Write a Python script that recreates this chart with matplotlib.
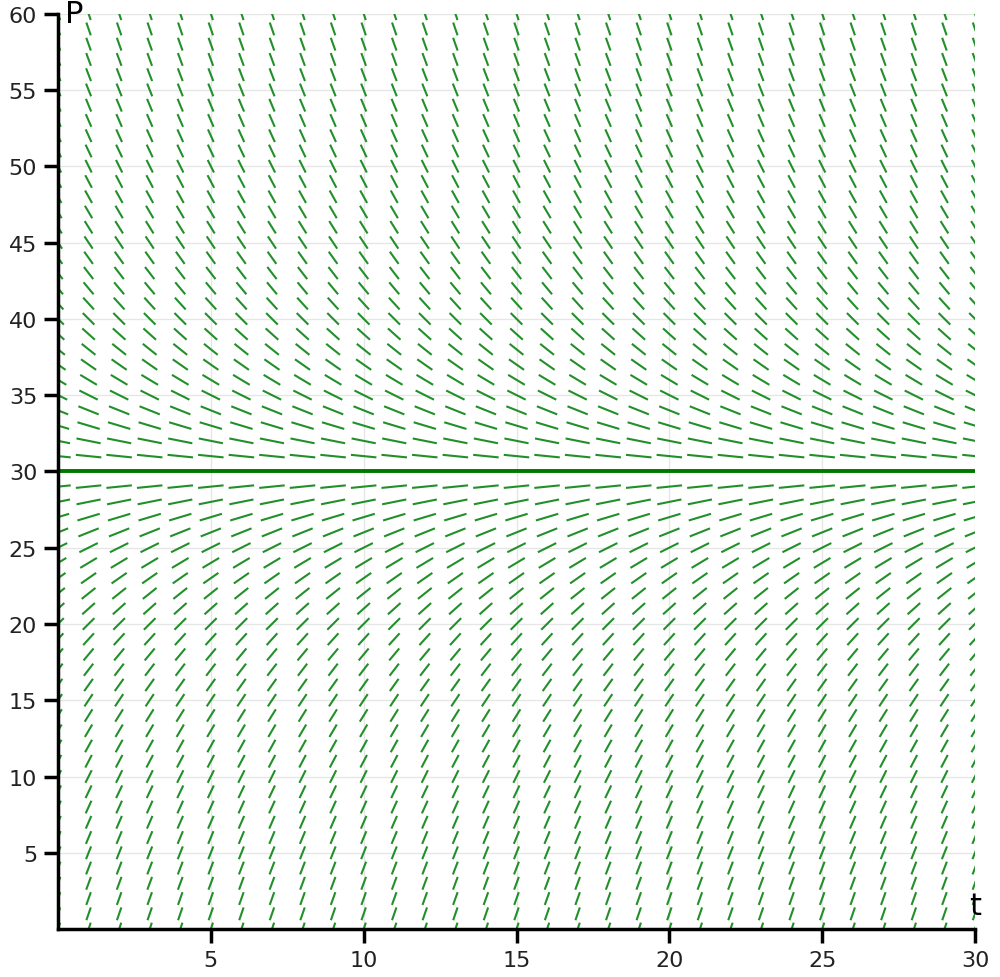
import numpy as np
import matplotlib
matplotlib.use("Agg")
import matplotlib.pyplot as plt
from matplotlib.collections import LineCollection

# slope field for dP/dt = k*(P_eq - P)
t_vals = np.arange(0, 31)
P_vals = np.arange(0, 61)
k = 0.2
P_eq = 30
seg_len = 0.85  # segment length in data units

x_ticks = [5, 10, 15, 20, 25, 30]
y_ticks = [5, 10, 15, 20, 25, 30, 35, 40, 45, 50, 55, 60]

fig = plt.figure(figsize=(10, 9.78), dpi=100)
ax = fig.add_axes([0.058, 0.049, 0.917, 0.936])

segs = []
for t in t_vals:
    for P in P_vals:
        slope = k * (P_eq - P)
        dx = seg_len / 2 / np.sqrt(1 + slope**2)
        dy = slope * dx
        segs.append([(t - dx, P - dy), (t + dx, P + dy)])
lc = LineCollection(segs, colors='#22902a', linewidths=1.5)
ax.add_collection(lc)

# equilibrium solution
ax.plot([t_vals[0], t_vals[-1]], [P_eq, P_eq], color='#007800', lw=2.8, zorder=3)

ax.set_xlim(0, 30)
ax.set_ylim(0, 60)
ax.set_xticks(x_ticks)
ax.set_yticks(y_ticks)
ax.grid(True, color='#e6e6e6', lw=1)
ax.set_axisbelow(True)

for s in ['top', 'right']:
    ax.spines[s].set_visible(False)
for s in ['left', 'bottom']:
    ax.spines[s].set_linewidth(2.5)
    ax.spines[s].set_zorder(5)
ax.tick_params(width=2.5, length=10, labelsize=16, pad=5, labelcolor='#222222')

ax.text(0.008, 1.0, 'P', transform=ax.transAxes, fontsize=22, va='center', ha='left')
ax.text(1.0, 0.01, 't', transform=ax.transAxes, fontsize=22, va='bottom', ha='center')

fig.savefig('out.png', dpi=100)
